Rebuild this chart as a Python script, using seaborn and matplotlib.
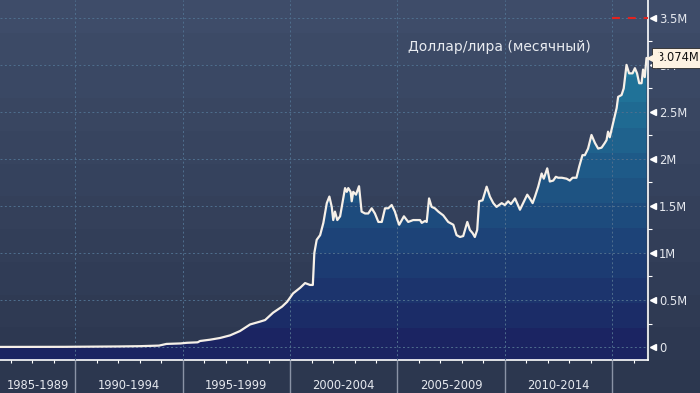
import numpy as np
import seaborn as sns
import matplotlib.pyplot as plt
import matplotlib.transforms as mtransforms
from matplotlib.colors import to_rgb
from matplotlib.ticker import FixedLocator, MultipleLocator, FixedFormatter

# USD / TRL, millions of lira per dollar
year = [1986.50, 1988.00, 1989.50, 1991.00, 1992.00, 1993.00, 1993.90, 1994.25, 1994.90,
        1995.20, 1995.70, 1995.81, 1996.28, 1996.74, 1997.21, 1997.67, 1998.14, 1998.60,
        1998.84, 1999.21, 1999.63, 1999.86, 2000.14, 2000.47, 2000.70, 2000.93, 2001.06,
        2001.13, 2001.24, 2001.40, 2001.55, 2001.71, 2001.83, 2001.94, 2002.01, 2002.09,
        2002.20, 2002.33, 2002.45, 2002.56, 2002.64, 2002.71, 2002.82, 2002.87, 2002.94,
        2003.07, 2003.21, 2003.33, 2003.49, 2003.64, 2003.80, 2003.95, 2004.11, 2004.27,
        2004.42, 2004.57, 2004.73, 2004.88, 2005.00, 2005.08, 2005.30, 2005.50, 2005.73,
        2006.05, 2006.13, 2006.28, 2006.36, 2006.47, 2006.59, 2006.74, 2006.90, 2007.13,
        2007.36, 2007.60, 2007.75, 2007.91, 2008.06, 2008.25, 2008.37, 2008.50, 2008.60,
        2008.71, 2008.80, 2008.96, 2009.15, 2009.30, 2009.46, 2009.61, 2009.85, 2010.00,
        2010.15, 2010.28, 2010.47, 2010.70, 2010.85, 2011.04, 2011.16, 2011.29, 2011.40,
        2011.55, 2011.71, 2011.81, 2011.97, 2012.09, 2012.25, 2012.37, 2012.48, 2012.65,
        2012.87, 2013.02, 2013.15, 2013.33, 2013.46, 2013.61, 2013.72, 2013.87, 2014.03,
        2014.19, 2014.34, 2014.50, 2014.65, 2014.73, 2014.80, 2014.88, 2014.96, 2015.07,
        2015.20, 2015.27, 2015.43, 2015.53, 2015.66, 2015.78, 2015.94, 2016.05, 2016.15,
        2016.25, 2016.36, 2016.43, 2016.51, 2016.59]
rate = [0.001, 0.0015, 0.002, 0.004, 0.006, 0.009, 0.015, 0.033, 0.038,
        0.045, 0.050, 0.064, 0.078, 0.096, 0.124, 0.170, 0.240, 0.270,
        0.287, 0.365, 0.430, 0.480, 0.570, 0.630, 0.680, 0.660, 0.660,
        1.000, 1.140, 1.190, 1.320, 1.530, 1.600, 1.490, 1.350, 1.440,
        1.350, 1.390, 1.550, 1.690, 1.650, 1.690, 1.650, 1.550, 1.650,
        1.620, 1.710, 1.440, 1.420, 1.420, 1.475, 1.420, 1.330, 1.330,
        1.475, 1.475, 1.510, 1.440, 1.350, 1.300, 1.390, 1.330, 1.350,
        1.350, 1.320, 1.340, 1.330, 1.580, 1.490, 1.475, 1.440, 1.400,
        1.330, 1.300, 1.190, 1.170, 1.180, 1.330, 1.245, 1.210, 1.170,
        1.245, 1.550, 1.560, 1.705, 1.600, 1.530, 1.490, 1.530, 1.510,
        1.550, 1.520, 1.580, 1.460, 1.530, 1.620, 1.580, 1.530, 1.600,
        1.705, 1.845, 1.790, 1.900, 1.760, 1.770, 1.810, 1.800, 1.800,
        1.790, 1.770, 1.800, 1.800, 1.920, 2.040, 2.040, 2.110, 2.255,
        2.170, 2.110, 2.120, 2.170, 2.200, 2.290, 2.230, 2.310, 2.415,
        2.540, 2.660, 2.680, 2.750, 3.000, 2.910, 2.910, 2.965, 2.910,
        2.805, 2.805, 2.950, 2.870, 3.074]

period_labels = ["1985-1989", "1990-1994", "1995-1999", "2000-2004", "2005-2009", "2010-2014"]
boundaries = [1985, 1990, 1995, 2000, 2005, 2010, 2015]
y_ticks = [0, 0.5, 1, 1.5, 2, 2.5, 3, 3.5]
y_tick_labels = ["0", "0.5M", "1M", "1.5M", "2M", "2.5M", "3M", "3.5M"]
target_level = 3.5
target_from = 2015.0
title = "Доллар/лира (месячный)"

x_min, x_max = 1986.5, 2016.66
y_min, y_max = -0.138, 3.69

sns.set_style("white")
plt.rcParams['font.family'] = ['DejaVu Sans']
plt.rcParams['xtick.bottom'] = True
plt.rcParams['ytick.right'] = True
txt = '#e6e9ef'

fig = plt.figure(figsize=(7, 3.93), dpi=100)

# stepped background gradient over whole figure
bg = fig.add_axes([0, 0, 1, 1], zorder=0)
top, bot = np.array(to_rgb('#3e4c69')), np.array(to_rgb('#2c374f'))
steps = np.linspace(0, 1, 12)[:, None]
bg.imshow((top + (bot - top) * steps)[:, None, :], aspect='auto',
          extent=[0, 1, 0, 1], interpolation='nearest')
bg.axis('off')

ax = fig.add_axes([0, 33 / 393, 648 / 700, 360 / 393], zorder=1)
ax.patch.set_alpha(0)

# banded blue fill under the curve
poly = ax.fill_between(year, rate, y_min, color='none', lw=0)
clip = poly.get_paths()[0]
edges = np.r_[y_min, np.arange(0.2, 3.5, 0.2667), y_max]
c0, c1 = np.array(to_rgb('#1b2462')), np.array(to_rgb('#2189a8'))
for i in range(len(edges) - 1):
    c = c0 + (c1 - c0) * i / (len(edges) - 2)
    span = ax.axhspan(edges[i], edges[i + 1], color=c, lw=0, zorder=1)
    span.set_clip_path(clip, ax.transData)

sns.lineplot(x=year, y=rate, ax=ax, color='#f6f0e8', linewidth=1.6,
             estimator=None, zorder=4)

ax.set_xlim(x_min, x_max)
ax.set_ylim(y_min, y_max)
ax.set_xlabel('')
ax.set_ylabel('')

ax.set_axisbelow(False)
ax.grid(True, which='major', color='#4f6f8e', lw=0.7, ls=(0, (2, 2.5)))

# x axis
ax.xaxis.set_major_locator(FixedLocator(boundaries))
ax.xaxis.set_minor_locator(MultipleLocator(1))
ax.tick_params(axis='x', which='major', bottom=True, length=24, width=1,
               color='#8a93a6', direction='out', labelbottom=False)
ax.tick_params(axis='x', which='minor', bottom=True, length=2.5, width=0.8,
               color='white', direction='out')
xtrans = mtransforms.blended_transform_factory(ax.transData, ax.transAxes)
for lab, start in zip(period_labels, boundaries):
    lo, hi = max(start, x_min), min(start + 5, x_max)
    if hi - lo >= 2:
        ax.text((lo + hi) / 2, -0.072, lab, transform=xtrans, ha='center',
                va='center', color=txt, fontsize=8.3)

# y axis on the right
ax.yaxis.tick_right()
ax.yaxis.set_major_locator(FixedLocator(y_ticks))
ax.yaxis.set_major_formatter(FixedFormatter(y_tick_labels))
ax.yaxis.set_minor_locator(FixedLocator([v + 0.25 for v in y_ticks[:-1]]))
ax.tick_params(axis='y', which='major', length=0, pad=8, labelsize=8.3,
               labelcolor=txt)
ax.tick_params(axis='y', which='minor', length=3, width=0.8, color='white',
               direction='out', right=True, left=False)
ytrans = mtransforms.blended_transform_factory(ax.transAxes, ax.transData)
ax.plot([1.0] * len(y_ticks), y_ticks, ls='none', marker='<', ms=5, color='white',
        transform=mtransforms.offset_copy(ytrans, fig=fig, x=5, units='dots'),
        clip_on=False)

for s in ['left', 'top']:
    ax.spines[s].set_visible(False)
for s in ['right', 'bottom']:
    ax.spines[s].set_color('white')
    ax.spines[s].set_linewidth(1.2)

# target level
ax.hlines(target_level, target_from, x_max, colors='#e3231f',
          linestyles=(0, (3.8, 3.8)), lw=1.5, zorder=5)

# last value tag
last = rate[-1]
ax.plot([1.0], [last], ls='none', marker='<', ms=9, color='#fdf2e2',
        transform=mtransforms.offset_copy(ytrans, fig=fig, x=5, units='dots'),
        clip_on=False, zorder=8)
ax.annotate(f"{last:.3f}M", xy=(1.0, last), xycoords=ytrans, xytext=(8, 0),
            textcoords='offset pixels', ha='left', va='center', fontsize=8.3,
            color='#111111', annotation_clip=False, zorder=7,
            bbox=dict(boxstyle='square,pad=0.32', fc='#fdf2e2', ec='#2a2a2a', lw=0.6))

ax.text(0.63, 0.869, title, transform=ax.transAxes, color='#e8ebf0',
        fontsize=10, va='center', ha='left')

fig.savefig('out.png', dpi=100)
